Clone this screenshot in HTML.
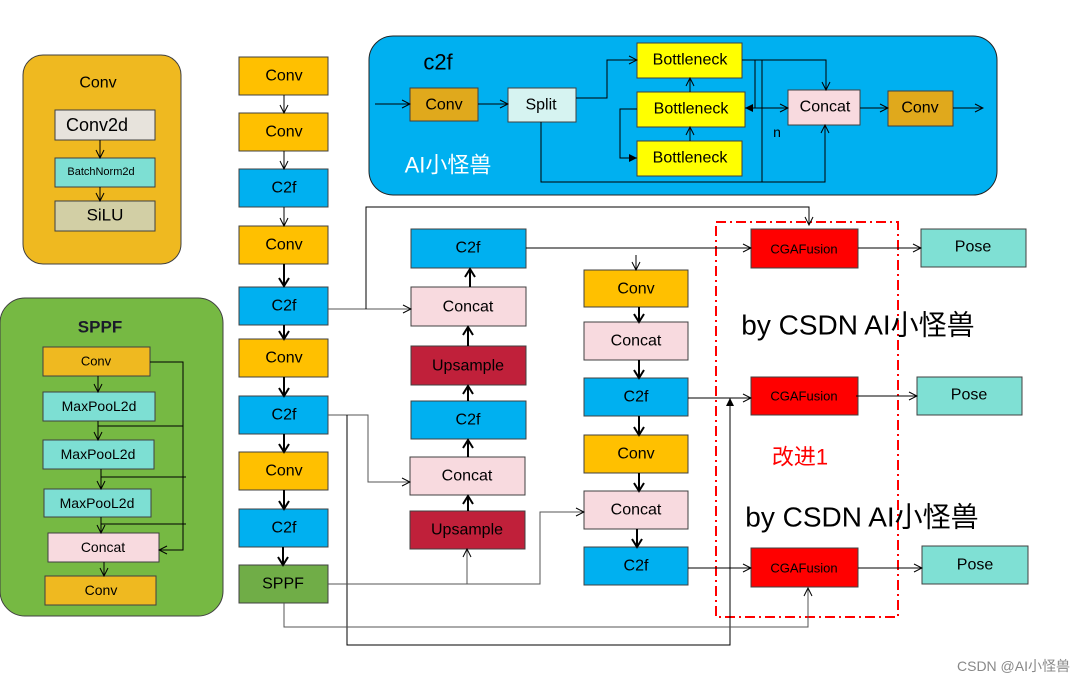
<!DOCTYPE html>
<html><head><meta charset="utf-8"><style>
body{margin:0;background:#fff}
svg{display:block}
text{font-family:"Liberation Sans","Noto Sans CJK SC",sans-serif;text-anchor:middle;dominant-baseline:central}
</style></head><body>
<svg width="1086" height="684" viewBox="0 0 1086 684" xmlns="http://www.w3.org/2000/svg">
<defs>
<marker id="o" markerWidth="10" markerHeight="10" refX="9" refY="5" orient="auto" markerUnits="userSpaceOnUse"><path d="M1,1 L9,5 L1,9" fill="none" stroke="#000" stroke-width="1"/></marker>
<marker id="t" markerWidth="12" markerHeight="12" refX="10" refY="6" orient="auto" markerUnits="userSpaceOnUse"><path d="M2,1 L10,6 L2,11" fill="none" stroke="#000" stroke-width="2"/></marker>
<marker id="f" markerWidth="10" markerHeight="10" refX="9" refY="5" orient="auto" markerUnits="userSpaceOnUse"><path d="M1,1 L9,5 L1,9Z" fill="#000"/></marker>
</defs>
<g stroke="#404040" stroke-width="1">
<rect x="23" y="55" width="158" height="209" rx="20" fill="#efb920"/>
<rect x="55" y="110" width="100" height="30" fill="#e7e3dc"/>
<rect x="55" y="158" width="100" height="29" fill="#7ddfd3"/>
<rect x="55" y="201" width="100" height="30" fill="#d2cfa5"/>
<rect x="0" y="298" width="223" height="318" rx="25" fill="#76b943"/>
<rect x="43" y="347" width="107" height="29" fill="#efb920"/>
<rect x="43" y="392" width="112" height="29" fill="#7ddfd3"/>
<rect x="43" y="440" width="111" height="29" fill="#7ddfd3"/>
<rect x="44" y="489" width="107" height="28" fill="#7ddfd3"/>
<rect x="48" y="533" width="111" height="29" fill="#f8dadf"/>
<rect x="45" y="576" width="111" height="29" fill="#efb920"/>
<rect x="239" y="57" width="89" height="38" fill="#ffc000"/>
<rect x="239" y="113" width="89" height="38" fill="#ffc000"/>
<rect x="239" y="169" width="89" height="38" fill="#00b0f0"/>
<rect x="239" y="226" width="89" height="38" fill="#ffc000"/>
<rect x="239" y="287" width="89" height="38" fill="#00b0f0"/>
<rect x="239" y="339" width="89" height="38" fill="#ffc000"/>
<rect x="239" y="396" width="89" height="38" fill="#00b0f0"/>
<rect x="239" y="452" width="89" height="38" fill="#ffc000"/>
<rect x="239" y="509" width="89" height="38" fill="#00b0f0"/>
<rect x="239" y="565" width="89" height="38" fill="#70ad47"/>
<rect x="369" y="36" width="628" height="159" rx="24" fill="#00b0f0" stroke="#222"/>
<rect x="410" y="88" width="68" height="33" fill="#e0a91c"/>
<rect x="508" y="88" width="68" height="34" fill="#d6f3f1"/>
<rect x="637" y="43" width="105" height="35" fill="#ffff00"/>
<rect x="637" y="92" width="108" height="35" fill="#ffff00"/>
<rect x="637" y="141" width="105" height="35" fill="#ffff00"/>
<rect x="788" y="90" width="72" height="35" fill="#f8dadf"/>
<rect x="888" y="91" width="65" height="35" fill="#e0a91c"/>
<rect x="411" y="229" width="115" height="39" fill="#00b0f0"/>
<rect x="411" y="287" width="115" height="39" fill="#f8dadf"/>
<rect x="411" y="346" width="115" height="39" fill="#c0203a"/>
<rect x="411" y="401" width="115" height="38" fill="#00b0f0"/>
<rect x="410" y="457" width="115" height="38" fill="#f8dadf"/>
<rect x="410" y="511" width="115" height="38" fill="#c0203a"/>
<rect x="584" y="270" width="104" height="37" fill="#ffc000"/>
<rect x="584" y="322" width="104" height="38" fill="#f8dadf"/>
<rect x="584" y="378" width="104" height="38" fill="#00b0f0"/>
<rect x="584" y="435" width="104" height="38" fill="#ffc000"/>
<rect x="584" y="491" width="104" height="38" fill="#f8dadf"/>
<rect x="584" y="547" width="104" height="38" fill="#00b0f0"/>
<rect x="751" y="229" width="107" height="39" fill="#ff0000"/>
<rect x="751" y="377" width="107" height="38" fill="#ff0000"/>
<rect x="751" y="548" width="107" height="39" fill="#ff0000"/>
<rect x="921" y="229" width="105" height="38" fill="#7fe0d4"/>
<rect x="917" y="377" width="105" height="38" fill="#7fe0d4"/>
<rect x="922" y="546" width="106" height="38" fill="#7fe0d4"/>
</g>
<rect x="716" y="222" width="182" height="395" fill="none" stroke="#f00" stroke-width="2" stroke-dasharray="10,4,2,4"/>

<g fill="none" stroke="#000" stroke-width="1">
<path d="M100,140V158" marker-end="url(#o)"/><path d="M100,187V201" marker-end="url(#o)"/>
<path d="M98,376V392" marker-end="url(#o)"/>
<path d="M98,421V440" marker-end="url(#o)"/>
<path d="M101,469V489" marker-end="url(#o)"/>
<path d="M101,517V533" marker-end="url(#o)"/>
<path d="M104,562V576" marker-end="url(#o)"/>
<path d="M150,362H183V550H159" marker-end="url(#o)"/>
<path d="M98,426H183M101,477H186M101,524H186"/>
<path d="M284,95V113" marker-end="url(#o)"/><path d="M284,151V169" marker-end="url(#o)"/><path d="M284,207V226" marker-end="url(#o)"/>
</g>
<g fill="none" stroke="#000" stroke-width="2">
<path d="M284,264V286" marker-end="url(#t)"/><path d="M284,325V339" marker-end="url(#t)"/><path d="M284,377V396" marker-end="url(#t)"/>
<path d="M284,434V452" marker-end="url(#t)"/><path d="M284,490V509" marker-end="url(#t)"/><path d="M283,547V565" marker-end="url(#t)"/>
<path d="M470,287V269" marker-end="url(#t)"/><path d="M468,346V327" marker-end="url(#t)"/><path d="M468,401V386" marker-end="url(#t)"/>
<path d="M468,457V440" marker-end="url(#t)"/><path d="M468,511V496" marker-end="url(#t)"/>
<path d="M639,307V322" marker-end="url(#t)"/><path d="M639,360V378" marker-end="url(#t)"/><path d="M639,416V435" marker-end="url(#t)"/>
<path d="M639,473V491" marker-end="url(#t)"/><path d="M637,529V547" marker-end="url(#t)"/>
</g>
<g fill="none" stroke="#000" stroke-width="1">
<path d="M375,104H410" marker-end="url(#o)"/><path d="M478,104H508" marker-end="url(#o)"/>
<path d="M576,98H607V60H637" marker-end="url(#o)"/>
<path d="M690,92V78" marker-end="url(#o)"/><path d="M690,141V127" marker-end="url(#o)"/>
<path d="M637,109H620V158H637" marker-end="url(#f)"/>
<path d="M742,60H826V90" marker-end="url(#o)"/>
<path d="M755,60V108M762,60V182"/>
<path d="M762,108H745" marker-end="url(#f)"/>
<path d="M762,108H788" marker-end="url(#o)"/>
<path d="M541,122V182H825V125" marker-end="url(#o)"/>
<path d="M860,108H888" marker-end="url(#o)"/><path d="M953,108H983" marker-end="url(#o)"/>
<path d="M328,309H411" marker-end="url(#o)" stroke="#555"/>
<path d="M366,309V207H809V225" marker-end="url(#o)"/>
<path d="M328,415H368V482H410" marker-end="url(#o)" stroke="#555"/>
<path d="M347,415V645H730V398" marker-end="url(#f)"/>
<path d="M328,584H540V512H584" marker-end="url(#o)" stroke="#555"/>
<path d="M467,584V549" marker-end="url(#o)" stroke="#555"/>
<path d="M284,603V627H808V588" marker-end="url(#o)" stroke="#555"/>
<path d="M526,248H751" marker-end="url(#o)"/>
<path d="M636,255V270" marker-end="url(#o)"/>
<path d="M688,398H751" marker-end="url(#o)"/>
<path d="M688,568H751" marker-end="url(#o)"/>
<path d="M858,248H921" marker-end="url(#o)"/>
<path d="M856,396H917" marker-end="url(#o)"/>
<path d="M858,568H922" marker-end="url(#o)"/>
</g>

<g font-size="16" fill="#000">
<text x="98" y="83" font-size="16">Conv</text>
<text x="97" y="125" font-size="18">Conv2d</text>
<text x="101" y="172" font-size="11">BatchNorm2d</text>
<text x="105" y="215" font-size="17">SiLU</text>
<text x="100" y="327" font-size="17" font-weight="bold" fill="#1a1a2a">SPPF</text>
<text x="96" y="361" font-size="13">Conv</text>
<text x="99" y="406" font-size="14">MaxPooL2d</text>
<text x="98" y="454" font-size="14">MaxPooL2d</text>
<text x="97" y="503" font-size="14">MaxPooL2d</text>
<text x="103" y="547" font-size="14">Concat</text>
<text x="101" y="590" font-size="14">Conv</text>
<text x="284" y="76">Conv</text><text x="284" y="132">Conv</text><text x="284" y="188">C2f</text>
<text x="284" y="245">Conv</text><text x="284" y="306">C2f</text><text x="284" y="358">Conv</text>
<text x="284" y="415">C2f</text><text x="284" y="471">Conv</text><text x="284" y="528">C2f</text><text x="283" y="584">SPPF</text>
<text x="438" y="62" font-size="22">c2f</text>
<text x="444" y="105">Conv</text><text x="541" y="105">Split</text>
<text x="690" y="60">Bottleneck</text><text x="691" y="109">Bottleneck</text><text x="690" y="158">Bottleneck</text>
<text x="825" y="107">Concat</text><text x="920" y="108">Conv</text>
<text x="777" y="132" font-size="14">n</text>
<text x="448" y="165" font-size="22" fill="#fff">AI小怪兽</text>
<text x="468" y="248">C2f</text><text x="468" y="307">Concat</text><text x="468" y="366">Upsample</text>
<text x="468" y="420">C2f</text><text x="467" y="476">Concat</text><text x="467" y="530">Upsample</text>
<text x="636" y="289">Conv</text><text x="636" y="341">Concat</text><text x="636" y="397">C2f</text>
<text x="636" y="454">Conv</text><text x="636" y="510">Concat</text><text x="636" y="566">C2f</text>
<text x="804" y="249" font-size="13">CGAFusion</text><text x="804" y="396" font-size="13">CGAFusion</text><text x="804" y="568" font-size="13">CGAFusion</text>
<text x="973" y="247">Pose</text><text x="969" y="395">Pose</text><text x="975" y="565">Pose</text>
<text x="858" y="325" font-size="28">by CSDN AI小怪兽</text>
<text x="862" y="517" font-size="28">by CSDN AI小怪兽</text>
<text x="800" y="457" font-size="22" fill="#f00">改进1</text>
<text x="1070" y="666" font-size="14" fill="#888" style="text-anchor:end">CSDN @AI小怪兽</text>
</g>
</svg>
</body></html>
